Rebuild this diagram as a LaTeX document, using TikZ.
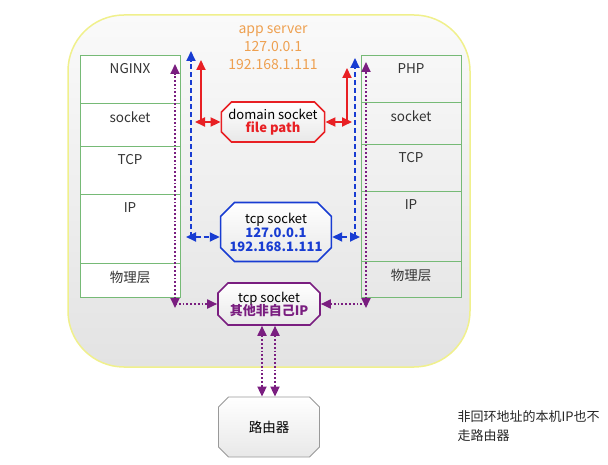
\documentclass[tikz,border=0pt]{standalone}
\usepackage{fontspec}
\setmainfont{Noto Sans CJK SC}
\usetikzlibrary{shapes.misc,arrows.meta}

\definecolor{srvred}{RGB}{232,32,36}
\definecolor{srvblue}{RGB}{24,60,210}
\definecolor{srvpurple}{RGB}{122,30,128}
\definecolor{srvgreen}{RGB}{118,186,118}
\definecolor{srvorange}{RGB}{238,160,80}
\definecolor{srvyellow}{RGB}{240,240,140}

\tikzset{
    box/.style={chamfered rectangle, chamfered rectangle xsep=5pt, chamfered rectangle ysep=5pt, line width=1.6pt,
        top color=white, bottom color=gray!18, align=center, inner sep=2pt,
        font=\fontsize{13}{16}\selectfont},
    cell/.style={draw=srvgreen, line width=1pt},
    lab/.style={font=\fontsize{13.5}{15}\selectfont, text=black!80},
    redl/.style={srvred, line width=1.8pt},
    bluel/.style={srvblue, line width=1.8pt, dash pattern=on 5pt off 3pt},
    purl/.style={srvpurple, line width=1.8pt, dash pattern=on 1.8pt off 2pt},
    >={Triangle[length=10pt,width=9pt]}
}

\begin{document}
\begin{tikzpicture}[x=1pt, y=-1pt]
    \useasboundingbox (0,0) rectangle (608,465);

    % app server
    \draw[srvyellow, line width=1.5pt, rounded corners=56pt, top color=gray!4, bottom color=gray!22]
        (68,15) rectangle (470,367);
    \node[text=srvorange, align=center, font=\fontsize{14}{18}\selectfont] (srv) at (273,48)
        {app server\\127.0.0.1\\192.168.1.111};

    % stacks
    \foreach \a/\b/\t [count=\i] in {56/104/NGINX, 104/147/socket, 147/195/TCP, 195/264/IP, 264/297/物理层} {
        \draw[cell, fill=white] (80,\a) rectangle (180,\b);
        \node[lab] (l\i) at (130,\a+13) {\t};
    }
    \foreach \a/\b/\t [count=\i] in {56/103/PHP, 103/145/socket, 145/192/TCP, 192/262/IP, 262/297/物理层} {
        \draw[cell] (361,\a) rectangle (461,\b);
        \node[lab] (r\i) at (411,\a+13) {\t};
    }

    % sockets
    \node[box, draw=srvred, minimum width=103pt, minimum height=36pt] (dom) at (273,122)
        {domain socket\\[-3pt]{\color{srvred}\bfseries file path}};
    \node[box, draw=srvblue, chamfered rectangle xsep=7pt, chamfered rectangle ysep=7pt,
        minimum width=108pt, minimum height=59pt] (tcp) at (276,232)
        {tcp socket\\[-2pt]{\color{srvblue}\bfseries 127.0.0.1}\\[-2pt]{\color{srvblue}\bfseries 192.168.1.111}};
    \node[box, draw=srvpurple, minimum width=102pt, minimum height=42pt] (pur) at (269,304)
        {tcp socket\\[-3pt]{\color{srvpurple}\bfseries 其他非自己IP}};
    \node[box, draw=gray!80, line width=0.8pt, minimum width=101pt, minimum height=60pt,
        font=\fontsize{13.5}{16}\selectfont] (rt) at (269,427) {路由器};

    \node[align=left, anchor=north west, font=\fontsize{13}{19}\selectfont, text=black!85] (note) at (454,407)
        {非回环地址的本机IP也不\\走路由器};

    % free ends
    \coordinate (rlt) at (201,60);   \coordinate (rlc) at (195,122);
    \coordinate (blt) at (191,51);   \coordinate (blc) at (186,237);
    \coordinate (plt) at (175,64);   \coordinate (plc) at (175,308);
    \coordinate (rrt) at (347,68);   \coordinate (rrc) at (352,122);
    \coordinate (brt) at (355,58);   \coordinate (brc) at (360,237);
    \coordinate (prt) at (366,62);   \coordinate (prc) at (366,308);

    % connectors
    \draw[redl, ->] (rlc -| rlt) -- (rlt);
    \draw[redl, <->] (rlc) -- (dom.west);
    \draw[redl, ->] (rrc -| rrt) -- (rrt);
    \draw[redl, <->] (dom.east) -- (rrc);

    \draw[bluel, ->] (blc -| blt) -- (blt);
    \draw[bluel, <->] (blc) -- (blc -| tcp.west);
    \draw[bluel, ->] (brc -| brt) -- (brt);
    \draw[bluel, <->] (brc -| tcp.east) -- (brc);

    \draw[purl, <->] (plc) -- (plt);
    \draw[purl, ->] (plc |- pur.west) -- (pur.west);
    \draw[purl, <->] (prc) -- (prt);
    \draw[purl, ->] (prc |- pur.east) -- (pur.east);

    \draw[purl, <->] ([xshift=-7pt]pur.south) -- ([xshift=-7pt]rt.north);
    \draw[purl, <->] ([xshift=6pt]pur.south) -- ([xshift=6pt]rt.north);
\end{tikzpicture}
\end{document}
